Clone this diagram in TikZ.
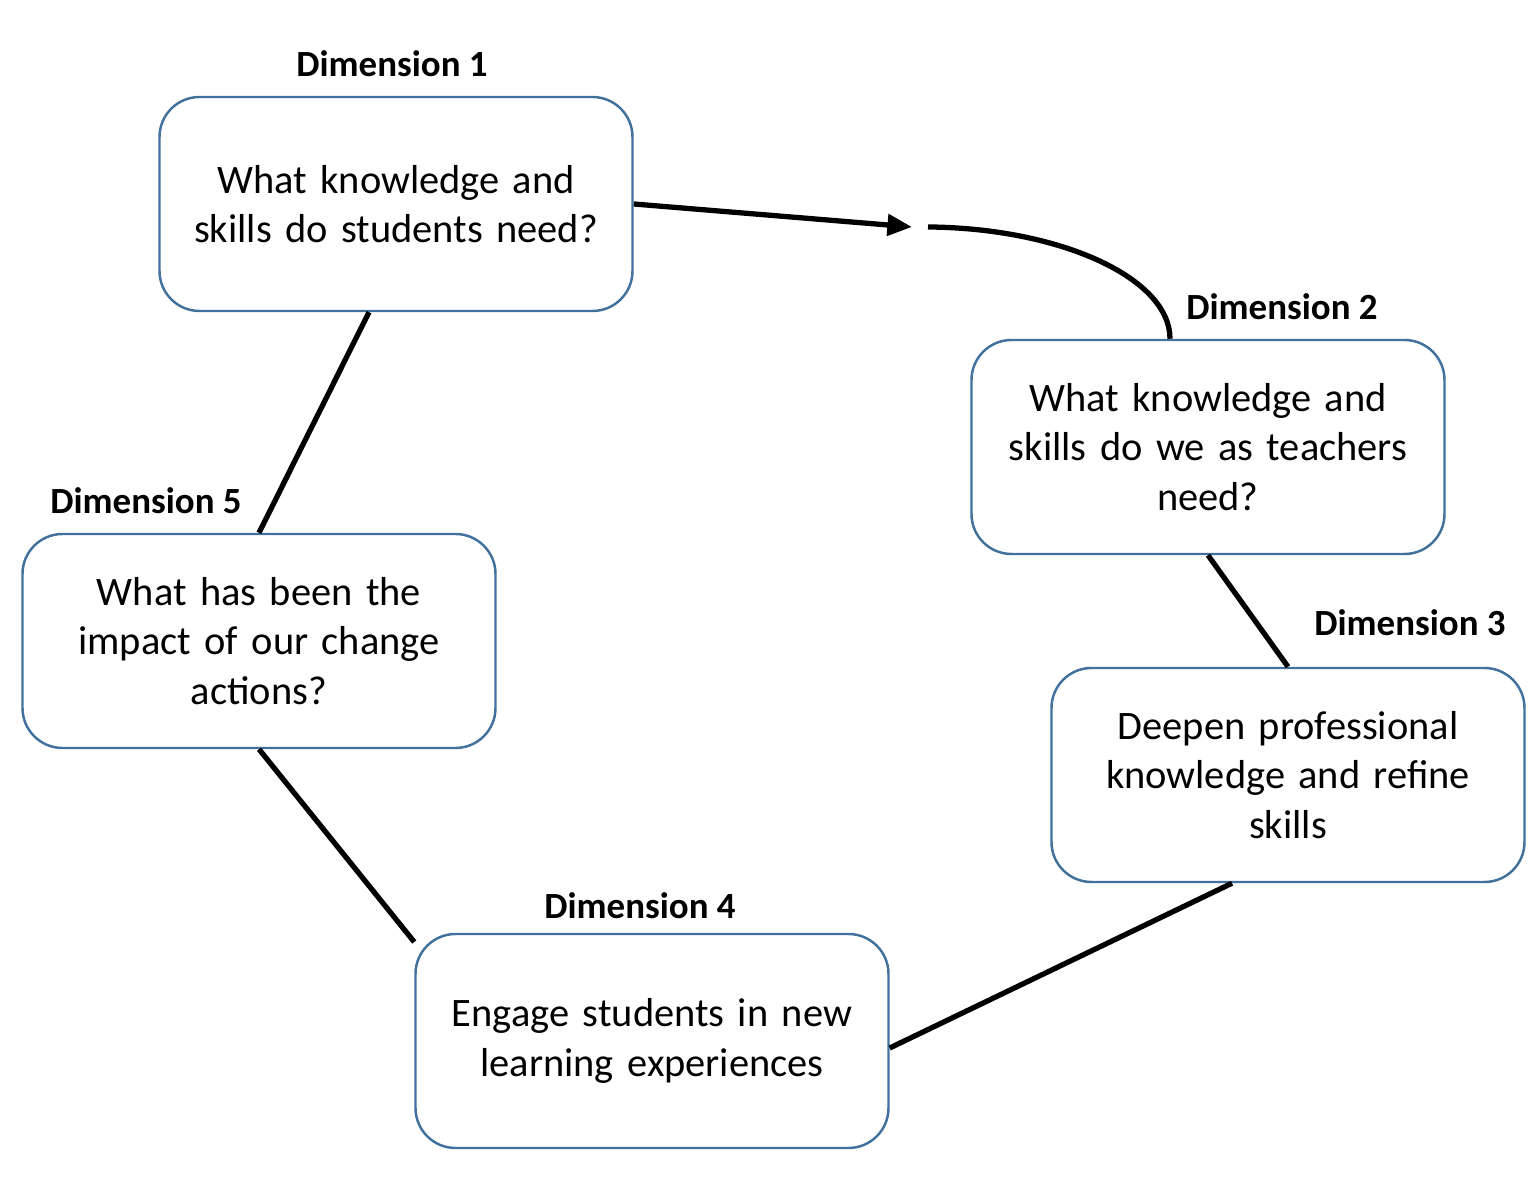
\documentclass[tikz,border=0pt]{standalone}
\usepackage{fontspec}
\setmainfont{Carlito}
\usetikzlibrary{calc,arrows.meta}
\definecolor{boxline}{HTML}{41719C}
\tikzstyle{dimbox}=[draw=boxline, line width=0.7pt, rounded corners=0.4cm,
  minimum width=4.73cm, minimum height=2.14cm, text width=4.4cm, align=center,
  font=\fontsize{11.5}{14}\selectfont]
\tikzstyle{dimlabel}=[font=\bfseries\fontsize{10.5}{12}\selectfont]
\tikzstyle{link}=[line width=1.5pt]

\begin{document}
\begin{tikzpicture}
  \useasboundingbox (0,0) rectangle (15.35,11.78);

  \node(b1)[dimbox] at (3.96,9.74){What knowledge and\\skills do students need?};
  \node(b2)[dimbox] at (12.08,7.31){What knowledge and\\skills do we as teachers\\need?};
  \node(b3)[dimbox] at (12.88,4.03){Deepen professional\\knowledge and refine\\skills};
  \node(b4)[dimbox] at (6.52,1.37){Engage students in new\\learning experiences};
  \node(b5)[dimbox] at (2.59,5.37){What has been the\\impact of our change\\actions?};

  \node(l1)[dimlabel] at (3.92,11.14){Dimension 1};
  \node(l2)[dimlabel] at (12.82,8.71){Dimension 2};
  \node(l3)[dimlabel] at (14.10,5.55){Dimension 3};
  \node(l4)[dimlabel] at (6.40,2.72){Dimension 4};
  \node(l5)[dimlabel] at (1.46,6.77){Dimension 5};

  \coordinate(gapA) at (9.12,9.51);
  \coordinate(gapB) at (9.28,9.51);

  \draw[link,-{Triangle[length=7pt,width=6pt]}] (b1.east) -- (gapA);
  \draw[link] (gapB) .. controls (10.6,9.5) and (11.7,9.0) .. ($(b2.north)+(-0.38,0)$);
  \draw[link] (b2.south) -- (b3.north);
  \draw[link] ($(b3.south)+(-0.56,0)$) -- ($(b4.east)+(0,-0.07)$);
  \draw[link] ($(b4.west)+(0,0.99)$) -- (b5.south);
  \draw[link] (b5.north) -- ($(b1.south)+(-0.27,0)$);
\end{tikzpicture}
\end{document}
